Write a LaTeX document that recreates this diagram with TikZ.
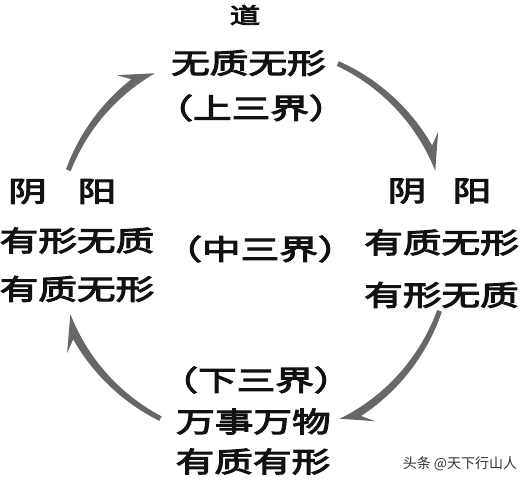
\documentclass[tikz,border=0pt]{standalone}
\usepackage{fontspec}
\newfontfamily\lishu[FakeStretch=1.38,FakeBold=4]{Noto Sans CJK SC}
\newfontfamily\cjk{Noto Sans CJK SC}
\usetikzlibrary{calc}
\definecolor{ink}{HTML}{111111}
\definecolor{arcgray}{HTML}{676767}
\definecolor{credittext}{HTML}{333333}
\tikzset{
  big/.style={font=\lishu\fontsize{28}{30}\selectfont,text=ink,inner sep=0pt},
  mid/.style={font=\lishu\fontsize{22}{24}\selectfont,text=ink,inner sep=0pt},
  credit/.style={font=\cjk\fontsize{14}{16}\selectfont,text=credittext,inner sep=0pt},
  flow/.style={fill=arcgray}
}

\begin{document}
\begin{tikzpicture}[x=1pt,y=1pt]
\path[use as bounding box] (0,0) rectangle (524,482);
\fill[white] (0,0) rectangle (524,482);
\coordinate (ctr) at (253,239);

% upper realm
\node[mid] (dao) at (245,467) {道};
\node[big] (wuwu) at (248.5,419) {无质无形};
\node[big] (shang) at (251,374) {（上三界）};
% left
\node[big] (yinL) at (27.5,290.5) {阴};
\node[big] (yangL) at (97,290.5) {阳};
\node[big] (l1) at (77,241.5) {有形无质};
\node[big] (l2) at (77,193) {有质无形};
% right
\node[big] (yinR) at (407,291) {阴};
\node[big] (yangR) at (472,291) {阳};
\node[big] (r1) at (441.5,239.5) {有质无形};
\node[big] (r2) at (441.5,187) {有形无质};
% middle and lower realm
\node[big] (zhong) at (260,233) {（中三界）};
\node[big] (xia) at (256,102) {（下三界）};
\node[big] (wanwu) at (253.5,60.5) {万事万物};
\node[big] (youyou) at (253,20.5) {有质有形};
\node[credit] (src) at (460,18) {头条 @天下行山人};

% arrows round the circle
\begin{scope}[shift={(ctr)}]
\foreach \s/\b/\t in {158.5/129/120, 64.7/31/21.6, -20/-55.6/-63.7, 242.2/210.6/201.3}{
  \fill[flow] (\s:196) arc[start angle=\s,end angle=\t,radius=196]
    -- ({\b}:216) -- ({\b-2.4}:204)
    -- plot[domain=\b-2.4:\s,samples=24] (\x:{204-3*(\x-(\b)+2.4)/(\s-(\b)+2.4)})
    -- cycle;
}
\end{scope}
\end{tikzpicture}
\end{document}
